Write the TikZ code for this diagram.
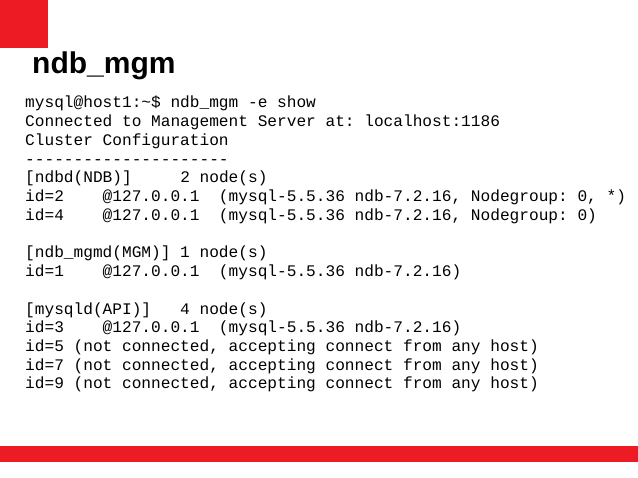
\documentclass[tikz,border=0pt]{standalone}
\usepackage{fontspec}
\setmainfont{Liberation Sans}
\newfontfamily\monof{Liberation Mono}
\definecolor{slidered}{RGB}{237,28,36}
\begin{document}
\begin{tikzpicture}[x=1pt,y=-1pt,
  ln/.style={anchor=base west,inner sep=0pt,font=\monof\fontsize{16.15}{18}\selectfont}]
\useasboundingbox (0,0) rectangle (638,478);
\fill[slidered] (0,0) rectangle (48,48);
\fill[slidered] (0,446) rectangle (638,462);
\node[anchor=base west,inner sep=0pt,font=\bfseries\fontsize{30}{34}\selectfont] (title) at (32,74) {ndb\_mgm};
\def\ls{18.73}
\node[ln] (l0) at (25,108) {mysql@host1:\string~\$~ndb\_mgm~-e~show};
\node[ln] (l1) at (25,108+\ls) {Connected~to~Management~Server~at:~localhost:1186};
\node[ln] (l2) at (25,108+2*\ls) {Cluster~Configuration};
\node[ln] (l3) at (25,108+3*\ls) {---------------------};
\node[ln] (l4) at (25,108+4*\ls) {[ndbd(NDB)]~~~~~2~node(s)};
\node[ln] (l5) at (25,108+5*\ls) {id=2~~~~@127.0.0.1~~(mysql-5.5.36~ndb-7.2.16,~Nodegroup:~0,~*)};
\node[ln] (l6) at (25,108+6*\ls) {id=4~~~~@127.0.0.1~~(mysql-5.5.36~ndb-7.2.16,~Nodegroup:~0)};
\node[ln] (l8) at (25,108+8*\ls) {[ndb\_mgmd(MGM)]~1~node(s)};
\node[ln] (l9) at (25,108+9*\ls) {id=1~~~~@127.0.0.1~~(mysql-5.5.36~ndb-7.2.16)};
\node[ln] (l11) at (25,108+11*\ls) {[mysqld(API)]~~~4~node(s)};
\node[ln] (l12) at (25,108+12*\ls) {id=3~~~~@127.0.0.1~~(mysql-5.5.36~ndb-7.2.16)};
\node[ln] (l13) at (25,108+13*\ls) {id=5~(not~connected,~accepting~connect~from~any~host)};
\node[ln] (l14) at (25,108+14*\ls) {id=7~(not~connected,~accepting~connect~from~any~host)};
\node[ln] (l15) at (25,108+15*\ls) {id=9~(not~connected,~accepting~connect~from~any~host)};
\end{tikzpicture}
\end{document}
